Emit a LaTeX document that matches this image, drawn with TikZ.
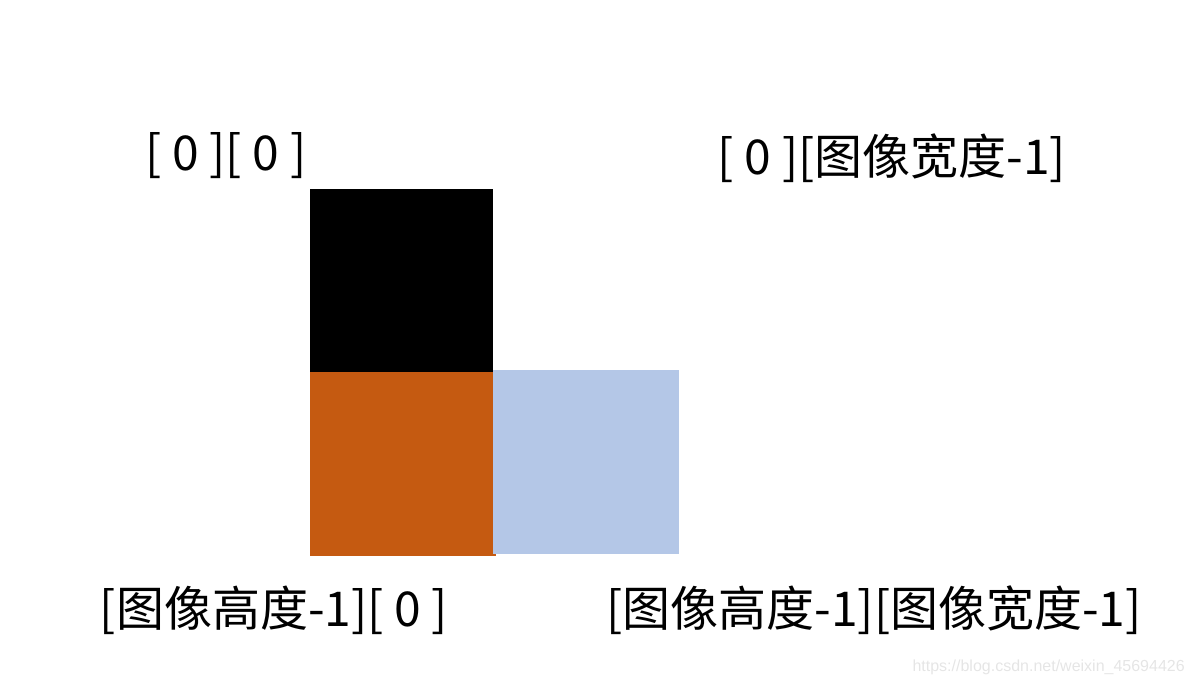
\documentclass[tikz,border=0pt]{standalone}
\usepackage{fontspec}
\setmainfont{Noto Sans CJK SC}
\newfontfamily\markfont{Liberation Sans}
\usetikzlibrary{positioning}
\definecolor{rust}{HTML}{C55A11}
\definecolor{paleblue}{HTML}{B4C7E7}
\tikzstyle{lbl}=[inner sep=0pt,outer sep=0pt,font=\fontsize{36}{42}\selectfont]
\tikzstyle{wmark}=[inner sep=0pt,text=black!10,font=\markfont\fontsize{12}{14}\selectfont]

\begin{document}
\begin{tikzpicture}[x=0.75pt,y=-0.75pt]
    \useasboundingbox (0,0) rectangle (1194,685);
    % the three cells
    \fill[rust] (310,372) rectangle (496,556);
    \fill[paleblue] (493,370) rectangle (679,554);
    \fill[black] (310,189) rectangle (493,372);
    % corner labels
    \node[lbl] (topleft) at (226,156) {[ 0 ][ 0 ]};
    \node[lbl] (topright) at (892,158) {[ 0 ][图像宽度-1]};
    \node[lbl] (botleft) at (274,610) {[图像高度-1][ 0 ]};
    \node[lbl] (botright) at (874,610) {[图像高度-1][图像宽度-1]};
    \node[wmark,anchor=east] (mark) at (1185,667) {https://blog.csdn.net/weixin\_45694426};
\end{tikzpicture}
\end{document}
